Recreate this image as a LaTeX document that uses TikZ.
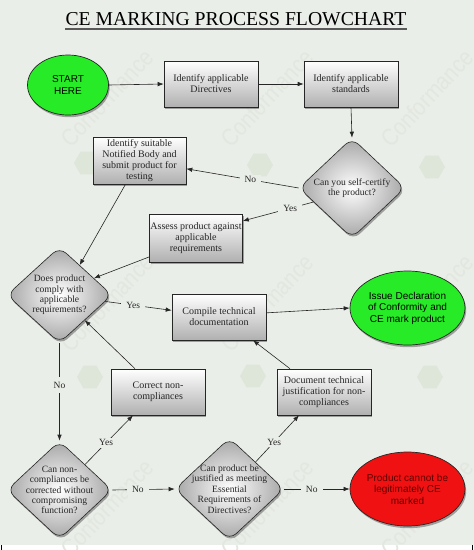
\documentclass[tikz,border=0pt]{standalone}
\usepackage{fontspec}
\setmainfont{Liberation Serif}
\setsansfont{Liberation Sans}
\usetikzlibrary{shapes.geometric,shadows,arrows.meta,calc}
\definecolor{bg}{RGB}{234,238,232}
\definecolor{wmc}{RGB}{226,231,223}
\definecolor{hexc}{RGB}{222,229,217}
\definecolor{greenfill}{RGB}{40,235,40}
\definecolor{redfill}{RGB}{240,18,18}
\definecolor{redtext}{RGB}{95,0,0}
\begin{document}
\begin{tikzpicture}[x=1pt,y=-1pt,
  shd/.style={drop shadow={shadow xshift=1.2pt, shadow yshift=-2.2pt, opacity=0.45, fill=black!75}},
  boxs/.style={rectangle, draw=black!85, line width=0.6pt, top color=white, bottom color=gray!62,
    minimum width=94pt, minimum height=46pt, inner sep=0pt, align=center,
    font=\fontsize{10}{11}\selectfont, text=black!85, shd},
  dias/.style={diamond, draw=black!85, line width=0.6pt, rounded corners=9pt,
    inner color=white, outer color=gray!70, inner sep=0pt, shd},
  dtext/.style={align=center, font=\fontsize{9.6}{10.4}\selectfont, text=black!85, inner sep=0pt},
  ells/.style={ellipse, draw=black!85, line width=0.7pt, inner sep=0pt, align=center,
    font=\sffamily\fontsize{10}{11.5}\selectfont, shd},
  arr/.style={-{Latex[length=6pt,width=4.5pt]}, line width=0.6pt, draw=black!85},
  lbl/.style={fill=bg, font=\fontsize{9.5}{11}\selectfont, inner xsep=5pt, inner ysep=2pt, text=black!85},
  wm/.style={text=wmc, font=\sffamily\fontsize{24}{24}\selectfont, rotate=47, inner sep=0pt},
  hexs/.style={regular polygon, regular polygon sides=6, fill=hexc, minimum size=26pt, inner sep=0pt}
]
\useasboundingbox (0,0) rectangle (474,550);
\fill[white] (0,0) rectangle (474,550);
\fill[bg] (0,0) rectangle (474,545);
\draw[line width=1pt] (1,545) -- (1,550);
\draw[line width=1pt] (472,545) -- (472,550);

% watermark
\foreach \wy in {98,303,508}{
  \foreach \wx in {107,267,427}{
    \node[wm] at (\wx,\wy) {\scalebox{0.85}[1]{Conformance}};
  }
}
\foreach \hx/\hy in {87/163,260/165,432/167,90/377,253/376,430/377}{
  \node[hexs] at (\hx,\hy) {};
}

% title
\node[font=\fontsize{19.7}{20}\selectfont, anchor=base, inner sep=0pt] (title) at (236,25) {CE MARKING PROCESS FLOWCHART};
\draw[line width=1.8pt, black!65] ($(title.base west)+(0,4)$) -- ($(title.base east)+(0,4)$);

% nodes
\node[ells, fill=greenfill, minimum width=81pt, minimum height=60pt] (start) at (68,85) {START\\HERE};
\node[boxs] (dir) at (211,84) {Identify applicable\\Directives};
\node[boxs] (std) at (351,84) {Identify applicable\\standards};
\node[dias, minimum width=106pt, minimum height=100pt] (d1) at (352,188) {};
\node[dtext] at (d1) {Can you self-certify\\the product?};
\node[boxs, minimum width=93pt, minimum height=47pt] (nb) at (139.5,160.5) {Identify suitable\\Notified Body and\\submit product for\\testing};
\node[boxs, minimum width=93pt, minimum height=48pt] (assess) at (196,238) {Assess product against\\applicable\\requirements};
\node[dias, minimum width=105pt, minimum height=96pt] (d2) at (59.5,295) {};
\node[dtext] at (d2) {Does product\\comply with\\applicable\\requirements?};
\node[boxs] (compile) at (219,317) {Compile technical\\documentation};
\node[ells, fill=greenfill, minimum width=115pt, minimum height=74pt] (issue) at (407.5,308) {Issue Declaration\\of Conformity and\\CE mark product};
\node[boxs] (correct) at (158,392) {Correct non-\\compliances};
\node[boxs] (doc) at (324,392) {Document technical\\justification for non-\\compliances};
\node[dias, minimum width=105pt, minimum height=98pt] (d3) at (59.5,490) {};
\node[dtext] at (d3) {Can non-\\compliances be\\corrected without\\compromising\\function?};
\node[dias, minimum width=109pt, minimum height=102pt] (d4) at (229.5,489) {};
\node[dtext] at (d4) {Can product be\\justified as meeting\\Essential\\Requirements of\\Directives?};
\node[ells, fill=redfill, text=redtext, minimum width=115pt, minimum height=74pt] (fail) at (407.5,489) {Product cannot be\\legitimately CE\\marked};

% connectors
\draw[arr] (start.east) -- (dir.west);
\draw[arr] (dir.east) -- (std.west);
\draw[arr] (std.south) -- (d1.north);
\draw[arr] (d1.west) -- node[lbl, pos=0.43] {No} (nb.-10);
\draw[arr] (d1.200) -- node[lbl, pos=0.33] {Yes} (assess.20);
\draw[arr] ($(nb.south)+(-14,0)$) -- (d2.56);
\draw[arr] (assess.202) -- (d2.26);
\draw[arr] (d2.-8) -- node[lbl, pos=0.42] {Yes} (compile.172);
\draw[arr] (compile.5) -- (issue.west);
\draw[arr] ($(correct.north)+(-23,0)$) -- (d2.-45);
\draw[arr] ($(doc.north)+(-34,0)$) -- ($(compile.south)+(34,0)$);
\draw[arr] (d2.south) -- node[lbl, pos=0.43, inner xsep=2pt, inner ysep=5pt] {No} (d3.north);
\draw[arr] (d3.45) -- node[lbl, pos=0.44] {Yes} ($(correct.south)+(-25,0)$);
\draw[arr] (d3.east) -- node[lbl, pos=0.41] {No} (d4.west);
\draw[arr] (d4.46) -- node[lbl, pos=0.43] {Yes} ($(doc.south)+(-25,0)$);
\draw[arr] (d4.east) -- node[lbl, pos=0.42] {No} (fail.west);
\end{tikzpicture}
\end{document}
